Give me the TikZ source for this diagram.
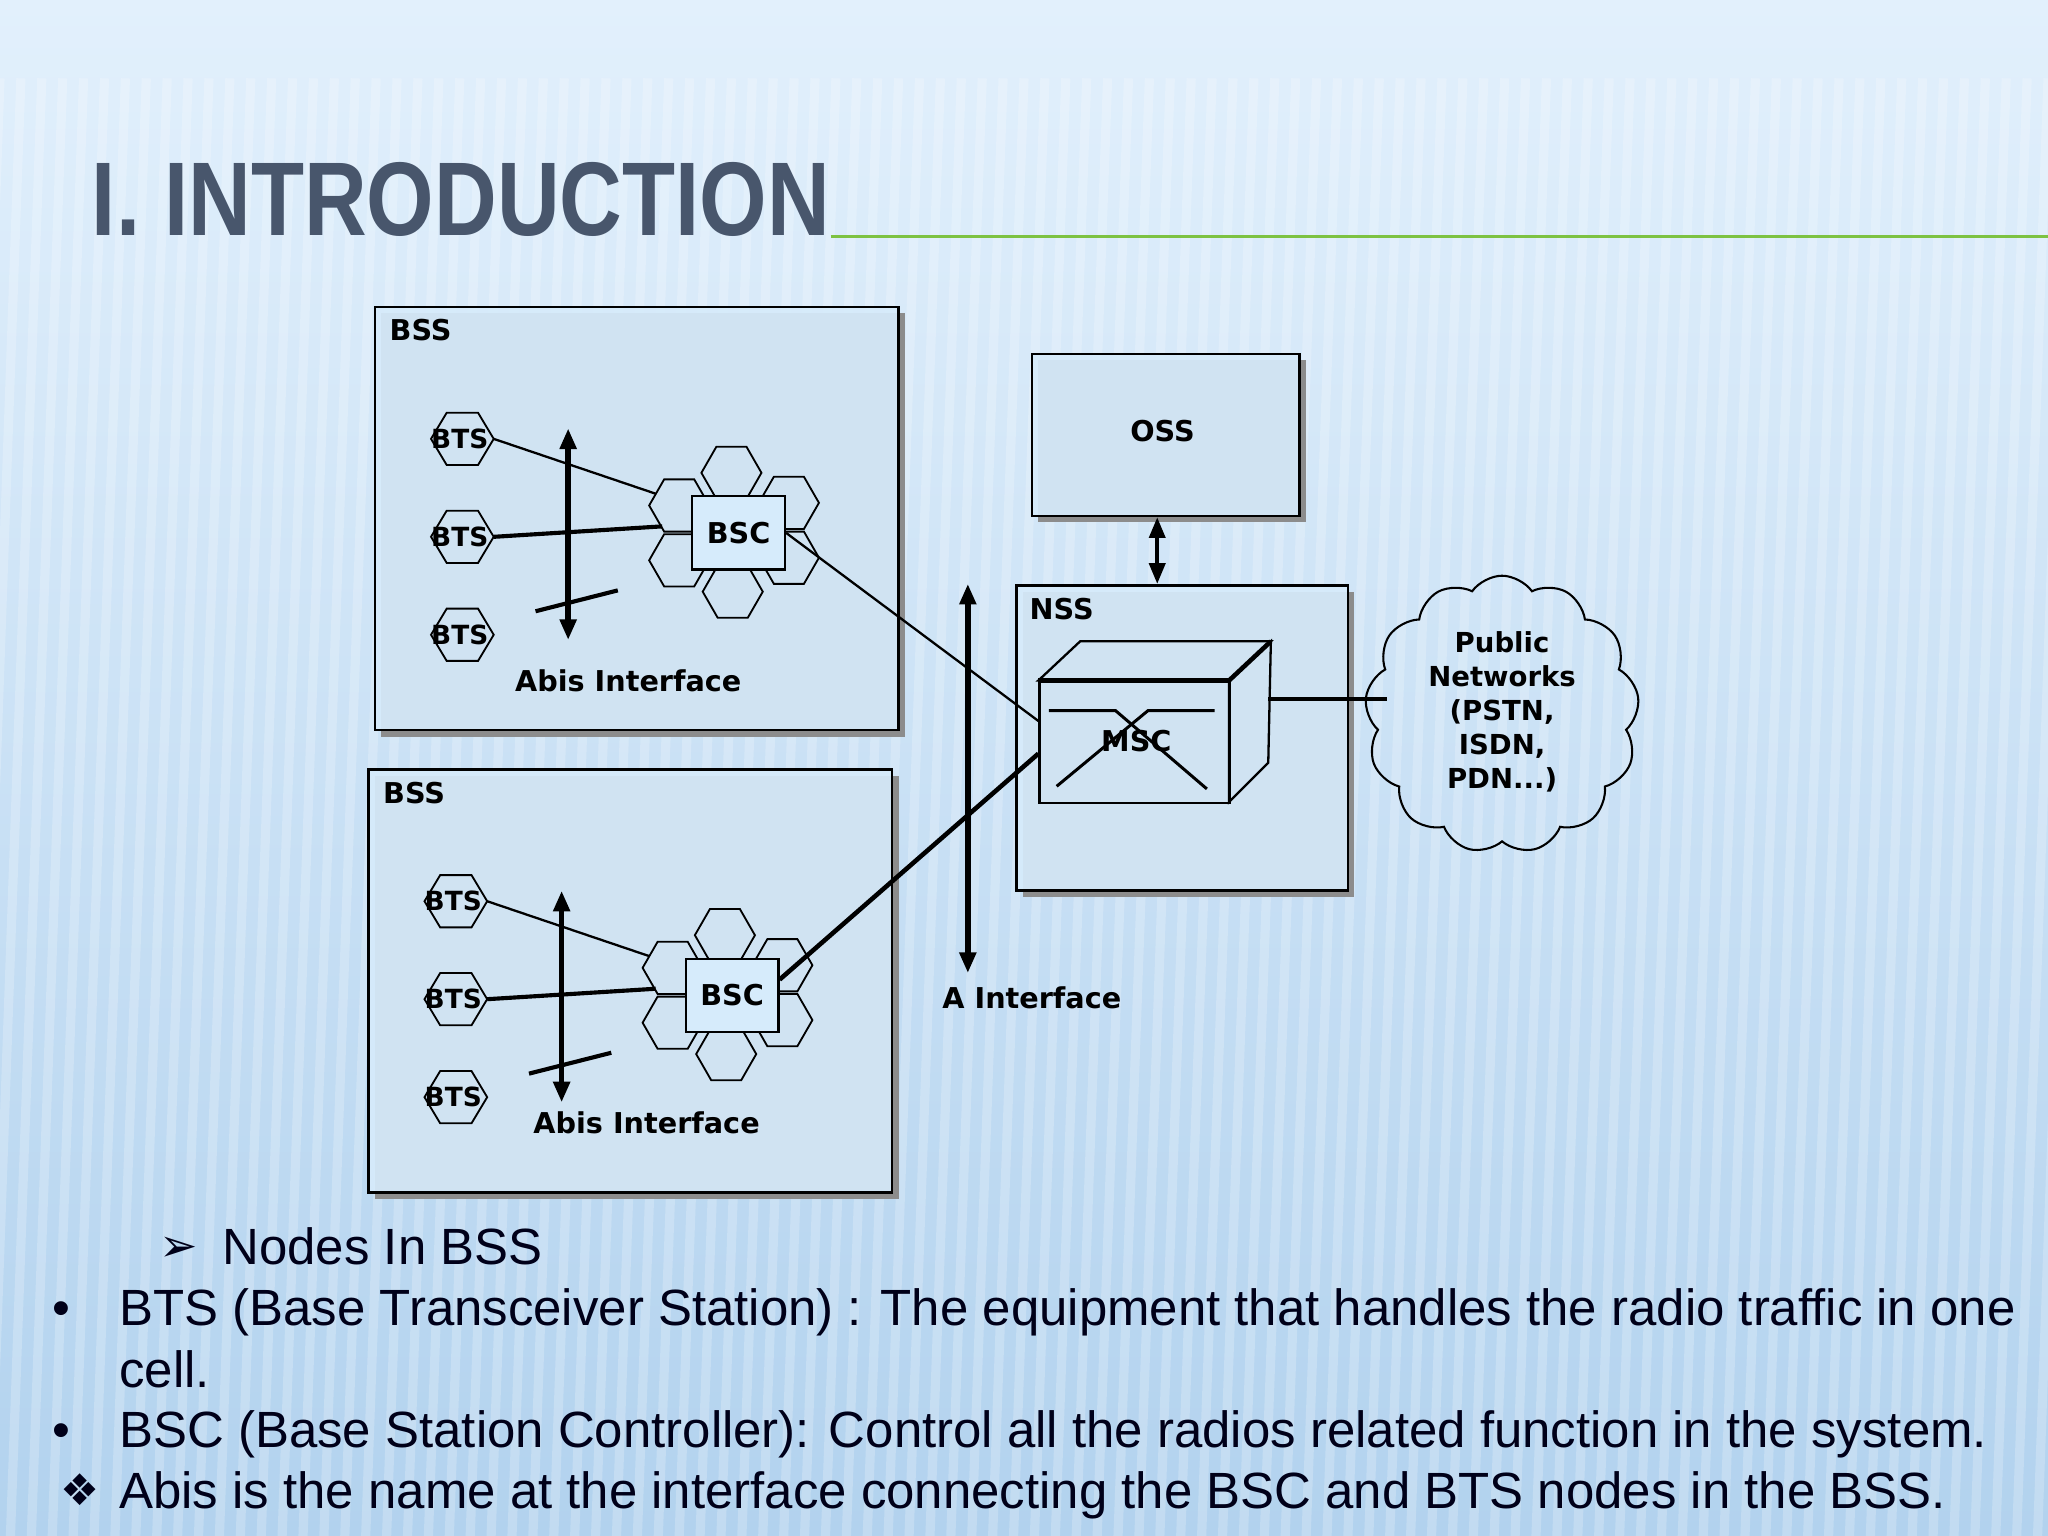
\documentclass[tikz,border=0pt]{standalone}
\usepackage{fontspec}
\setmainfont{Liberation Sans}
\newfontfamily\dv{DejaVu Sans}
\usetikzlibrary{shapes.symbols,arrows.meta,calc}
\definecolor{boxbg}{RGB}{214,235,251}
\tikzset{
 lbl/.style={font=\dv\bfseries\fontsize{12.5}{14}\selectfont,inner sep=0pt},
 frame/.style={draw=black,line width=1.2pt,fill=boxbg,fill opacity=0.92,text opacity=1},
 shadowbox/.style={fill=black!45,draw=none},
 hex/.style={draw=black,line width=0.8pt},
 link/.style={draw=black,line width=1pt},
 dbl/.style={line width=2.4pt,{Triangle[length=9pt,width=7pt]}-{Triangle[length=9pt,width=7pt]}},
 body/.style={font=\fontsize{22.2}{25}\selectfont,text=black!90!blue,anchor=base west,inner sep=0pt}
}
\newcommand\hexshape[4]{\draw[hex] (#1-#3,#2)--(#1-#3/2,#2-#4)--(#1+#3/2,#2-#4)--(#1+#3,#2)--(#1+#3/2,#2+#4)--(#1-#3/2,#2+#4)--cycle;}
\newcommand\bssblock[4]{% #1 dx #2 dy #3 suffix #4 abis label pos
 \begin{scope}[shift={(#1,#2)}]
 \fill[shadowbox] (292,240) rectangle (693,564);
 \node[frame,minimum width=8.02cm,minimum height=6.48cm,anchor=north west] (bss#3) at (286,234) {};
 \node[lbl,anchor=west] (bsslbl#3) at (298,253) {BSS};
 \foreach \y/\n in {336/1,411/2,486/3}{\hexshape{354}{\y}{24}{20}
   \node[lbl,font=\dv\bfseries\fontsize{11.5}{13}\selectfont] (bts#3\n) at (352,\y) {BTS};
   \coordinate (btsr#3\n) at (378,\y);}
 \foreach \cx/\cy in {560/362,561/453,520/387,520/429,604/385,604/427}{\hexshape{\cx}{\cy}{23}{20}}
 \node[draw=black,line width=1pt,fill=boxbg,text opacity=1,minimum width=1.42cm,minimum height=1.12cm,lbl] (bsc#3) at (565.5,408) {BSC};
 \coordinate (bscin1#3) at (502,378);
 \coordinate (bscin2#3) at (507,403);
 \draw[link] (btsr#31) -- (bscin1#3);
 \draw[link,line width=1.8pt] (btsr#32) -- (bscin2#3);
 \coordinate (abt#3) at (435,328); \coordinate (abb#3) at (435,490);
 \draw[dbl] (abt#3) -- (abb#3);
 \coordinate (brk1#3) at (410,468); \coordinate (brk2#3) at (473,452);
 \draw[line width=1.8pt] (brk1#3) -- (brk2#3);
 \node[lbl] (abis#3) at #4 {Abis Interface};
 \end{scope}}
\begin{document}
\begin{tikzpicture}[x=0.02cm,y=-0.02cm]
\useasboundingbox (0,0) rectangle (1568,1176);
\shade[top color={rgb,255:red,226;green,240;blue,252},bottom color={rgb,255:red,178;green,210;blue,238}] (0,0) rectangle (1568,1176);
\foreach \i in {0,16,...,1640}{\draw[white,opacity=0.22,line width=4pt] (\i,60) -- (\i-40,1176);}
% title
\node[anchor=base west,inner sep=0pt,text={rgb,255:red,72;green,86;blue,108}] (title) at (70,180)
 {\resizebox{11.3cm}{1.12cm}{\bfseries I. INTRODUCTION}};
\coordinate (gl1) at (636,181); \coordinate (gl2) at (1568,181);
\draw[line width=1.5pt,color={rgb,255:red,125;green,194;blue,66}] (gl1) -- (gl2);
% BSS blocks
\bssblock{0}{0}{a}{(481,521)}
\bssblock{-5}{354}{b}{(500,506)}
% OSS
\fill[shadowbox] (795,276) rectangle (1000,400);
\node[frame,minimum width=4.1cm,minimum height=2.48cm,anchor=north west] (oss) at (789,270) {};
\node[lbl] (osslbl) at (890,330) {OSS};
% NSS
\fill[shadowbox] (783,453) rectangle (1037,687);
\node[frame,minimum width=5.08cm,minimum height=4.68cm,anchor=north west] (nss) at (777,447) {};
\node[lbl,anchor=west] (nsslbl) at (788,466) {NSS};
\draw[dbl,line width=1.6pt] (oss.south -| 886,0) -- (nss.north -| 886,0);
% MSC cube
\coordinate (f1) at (795,521); \coordinate (f2) at (941,521);
\coordinate (f3) at (941,614); \coordinate (f4) at (795,614);
\draw[line width=1pt] (f1) -- (827,491) -- (973,491) -- (941,521) -- cycle;
\draw[line width=1pt] (f2) -- (973,491) -- (971,584) -- (f3) -- cycle;
\draw[line width=2pt] (973,491) -- (941,521);
\node[draw=black,line width=1pt,minimum width=2.92cm,minimum height=1.86cm,anchor=north west] (msc) at (f1) {};
\draw[line width=1.8pt] (f1) -- (f2);
\draw[line width=1.3pt] (803,544) -- (854,544) -- (924,604);
\draw[line width=1.3pt] (930,544) -- (879,544) -- (809,602);
\node[lbl] (msclbl) at (870,567) {MSC};
% cloud
\node[cloud,draw=black,line width=0.9pt,cloud puffs=13,cloud puff arc=110,aspect=1,minimum width=4.2cm,minimum height=4.25cm,inner sep=0pt] (cloud) at (1150,547) {};
\node[lbl,align=center,font=\dv\bfseries\fontsize{12}{14.8}\selectfont] (pub) at (1150,545) {Public\\Networks\\(PSTN,\\ISDN,\\PDN...)};
\coordinate (cl) at (1062,535);
\draw[line width=1.8pt] (971,535) -- (cl);
% BSC to MSC links
\coordinate (mscin1) at (795,552); \coordinate (mscin2) at (795,577);
\draw[link] (bsca.east) -- (mscin1);
\draw[link,line width=2pt] ($(bscb.east)+(0,-12)$) -- (mscin2);
% A interface
\coordinate (ait) at (741,447); \coordinate (aib) at (741,745);
\draw[dbl] (ait) -- (aib);
\node[lbl] (ailbl) at (790,764) {A Interface};
% body text
\node[body,font=\dv\fontsize{20}{24}\selectfont] (b0) at (122,966) {➢};
\node[body] (t0) at (170,968) {Nodes In BSS};
\node[body] (b1) at (40,1015) {•};
\node[body] (t1) at (91,1015) {BTS (Base Transceiver Station) : The equipment that handles the radio traffic in one};
\node[body] (t1b) at (91,1062) {cell.};
\node[body] (b2) at (40,1108) {•};
\node[body] (t2) at (91,1108) {BSC (Base Station Controller): Control all the radios related function in the system.};
\node[body,font=\dv\fontsize{19}{24}\selectfont] (b3) at (46,1153) {❖};
\node[body] (t3) at (91,1155) {Abis is the name at the interface connecting the BSC and BTS nodes in the BSS.};
\end{tikzpicture}
\end{document}
